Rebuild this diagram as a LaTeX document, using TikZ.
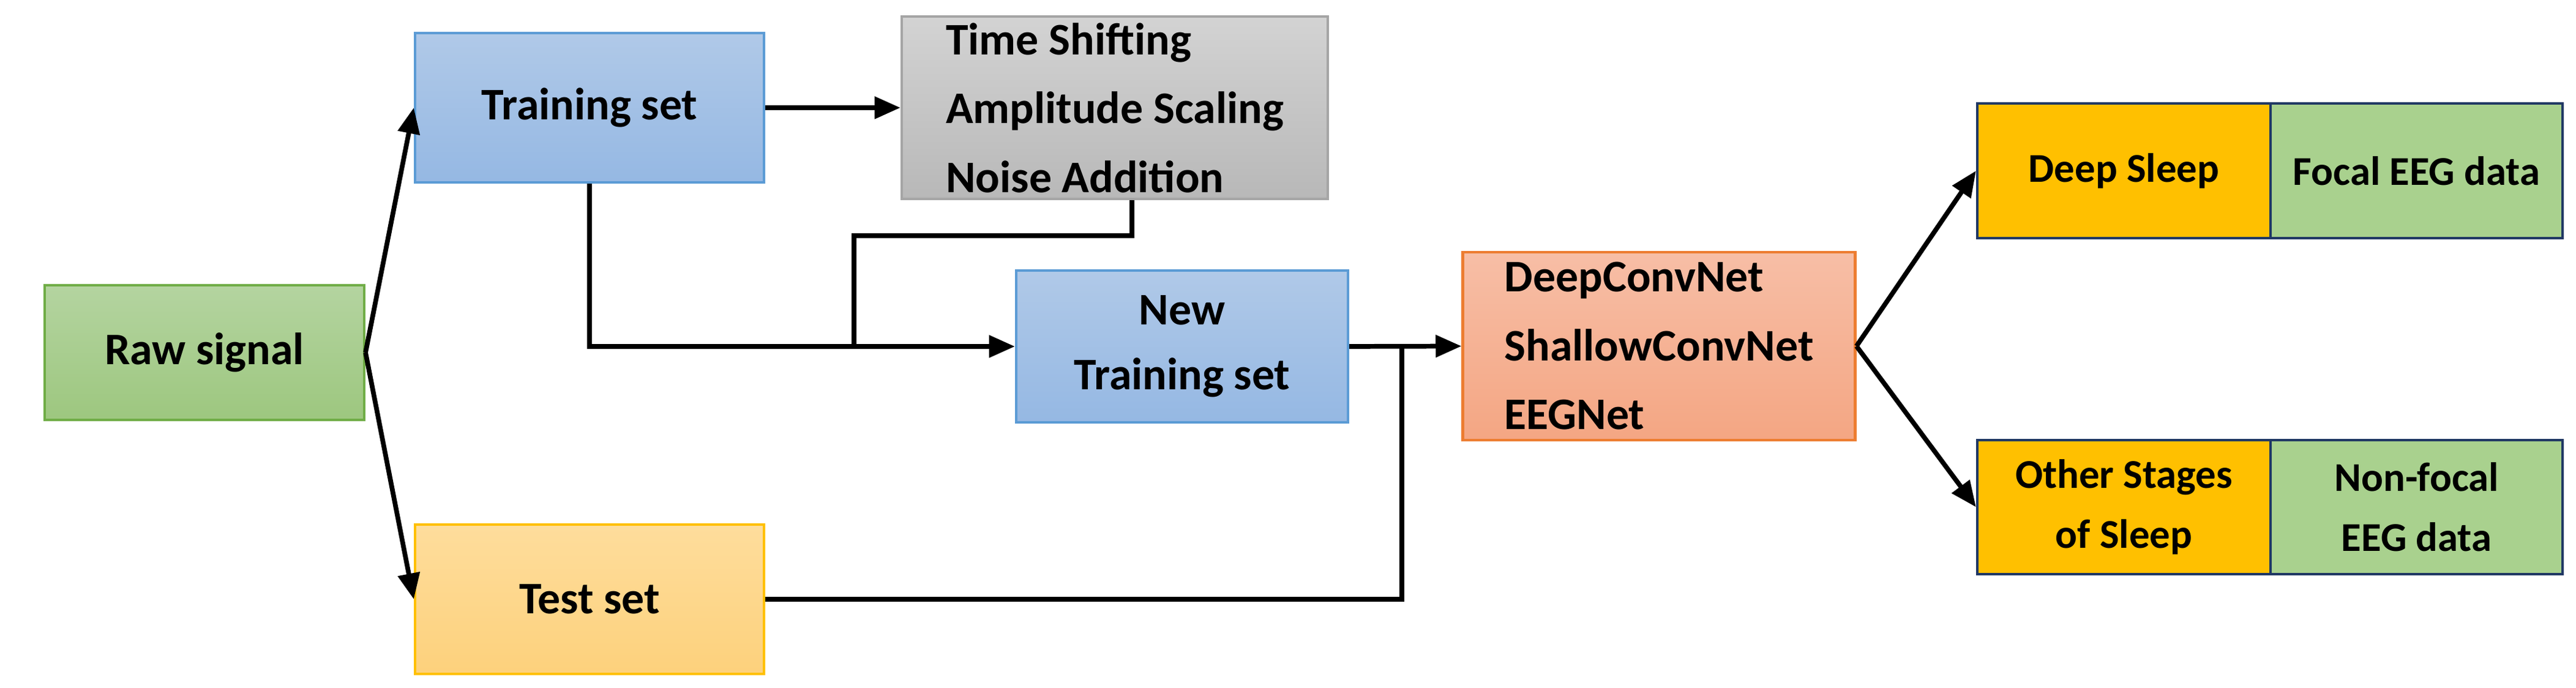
\documentclass[tikz,border=0pt]{standalone}
\usepackage{fontspec}
\setmainfont{Carlito}
\usetikzlibrary{arrows.meta}
\definecolor{bT}{HTML}{B0C9E8}\definecolor{bB}{HTML}{95B8E3}\definecolor{bD}{HTML}{5B9BD5}
\definecolor{gT}{HTML}{D3D3D3}\definecolor{gB}{HTML}{B8B8B8}\definecolor{gD}{HTML}{A5A5A5}
\definecolor{nT}{HTML}{B4D4A0}\definecolor{nB}{HTML}{9DC77F}\definecolor{nD}{HTML}{70AD47}
\definecolor{yT}{HTML}{FEDD9C}\definecolor{yB}{HTML}{FDD17C}\definecolor{yD}{HTML}{FFC000}
\definecolor{oT}{HTML}{F7BEA6}\definecolor{oB}{HTML}{F4A683}\definecolor{oD}{HTML}{ED7D31}
\definecolor{dY}{HTML}{FFC000}\definecolor{dG}{HTML}{A9D18E}\definecolor{dN}{HTML}{203864}
\begin{document}
\begin{tikzpicture}[x=1cm,y=1cm,
 box/.style={draw,line width=1.2pt,inner sep=0pt,font=\fontsize{21}{30}\selectfont\bfseries,align=center},
 ln/.style={line width=2.2pt},
 arr/.style={ln,-{Triangle[length=12pt,width=10pt]}}]
\useasboundingbox (0,0) rectangle (42.08,11.24);
\def\Y#1{11.24-#1}
\node[box,draw=nD,top color=nT,bottom color=nB,minimum width=5.22cm,minimum height=2.2cm] (raw) at (3.34,{\Y{5.76}}) {Raw signal};
\node[box,draw=bD,top color=bT,bottom color=bB,minimum width=5.7cm,minimum height=2.44cm] (train) at (9.63,{\Y{1.76}}) {Training set};
\node[box,draw=gD,top color=gT,bottom color=gB,minimum width=6.96cm,minimum height=2.98cm,align=left,font=\fontsize{21}{32}\selectfont\bfseries] (aug) at (18.21,{\Y{1.76}}) {Time Shifting\\Amplitude Scaling\\Noise Addition};
\node[box,draw=bD,top color=bT,bottom color=bB,minimum width=5.42cm,minimum height=2.48cm] (new) at (19.31,{\Y{5.66}}) {New\\Training set};
\node[box,draw=yD,top color=yT,bottom color=yB,minimum width=5.7cm,minimum height=2.44cm] (test) at (9.63,{\Y{9.79}}) {Test set};
\node[box,draw=oD,top color=oT,bottom color=oB,minimum width=6.41cm,minimum height=3.07cm,align=left,font=\fontsize{21}{32}\selectfont\bfseries] (cnn) at (27.10,{\Y{5.655}}) {DeepConvNet\\ShallowConvNet\\EEGNet};
\node[box,draw=dN,fill=dY,minimum width=4.79cm,minimum height=2.2cm,font=\fontsize{19}{28}\selectfont\bfseries] (deep) at (34.695,{\Y{2.79}}) {Deep Sleep};
\node[box,draw=dN,fill=dG,minimum width=4.77cm,minimum height=2.2cm,font=\fontsize{19}{28}\selectfont\bfseries] (focal) at (39.475,{\Y{2.79}}) {Focal EEG data};
\node[box,draw=dN,fill=dY,minimum width=4.79cm,minimum height=2.19cm,font=\fontsize{19}{28}\selectfont\bfseries] (other) at (34.695,{\Y{8.285}}) {Other Stages\\of Sleep};
\node[box,draw=dN,fill=dG,minimum width=4.77cm,minimum height=2.19cm,font=\fontsize{19}{28}\selectfont\bfseries] (nonf) at (39.475,{\Y{8.285}}) {Non-focal\\EEG data};
\coordinate (jA) at (13.95,{\Y{3.85}});
\coordinate (jB) at (13.95,{\Y{5.64}});
\coordinate (jT) at (22.90,{\Y{5.64}});
\draw[arr] (raw.east) -- (train.west);
\draw[arr] (raw.east) -- (test.west);
\draw[arr] (train.east) -- (aug.west);
\draw[arr] (train.south) |- (new.west);
\draw[ln] (aug.south -| 18.49,0) |- (jA) -- (jB);
\draw[arr] (new.east) -- (cnn.west);
\draw[ln] (test.east) -| (jT);
\draw[arr] (cnn.east) -- (deep.west);
\draw[arr] (cnn.east) -- (other.west);
\end{tikzpicture}
\end{document}
